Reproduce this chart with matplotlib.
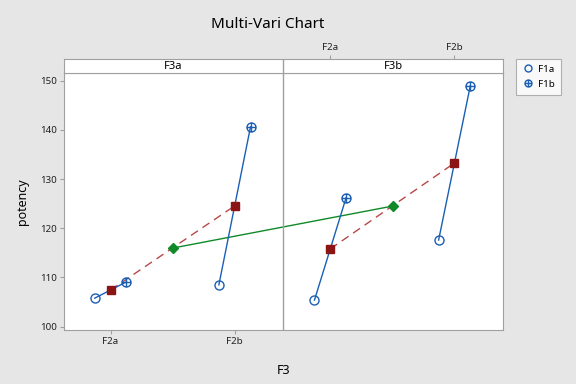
import numpy as np
import matplotlib.pyplot as plt
from matplotlib.path import Path

plt.rcParams['font.family'] = ['Noto Sans', 'DejaVu Sans']

# data
f3_levels = ['F3a', 'F3b']
f2_levels = ['F2a', 'F2b']
f1_levels = ['F1a', 'F1b']
# potency[f3][f2] = [F1a, F1b]
potency_f3a = [[105.8, 109.1], [108.5, 140.6]]
potency_f3b = [[105.4, 126.2], [117.6, 148.9]]
potency = [potency_f3a, potency_f3b]

blue = '#1a5fb4'
dred = '#8b1414'
lred = '#b84848'
green = '#108a28'
bg = '#e6e6e6'
frame = '#a0a0a0'

# circle with cross marker
circ = Path.unit_circle()
cross = Path([(-1, 0), (1, 0), (0, -1), (0, 1)],
             [Path.MOVETO, Path.LINETO, Path.MOVETO, Path.LINETO])
oplus = Path.make_compound_path(circ, cross)

fig = plt.figure(figsize=(5.76, 3.84), dpi=100, facecolor=bg)
W, H = 576, 384
x0, x1 = 63.5, 503
ytop_data, ybot, ytop = 72.7, 330, 59
ax = fig.add_axes([x0 / W, 1 - ybot / H, (x1 - x0) / W, (ybot - ytop_data) / H])
sx = fig.add_axes([x0 / W, 1 - ytop_data / H, (x1 - x0) / W, (ytop_data - ytop) / H])

f2_pos = [0.214, 0.779]
f1_off = [-0.072, 0.072]

f3_means = []
for k, panel in enumerate(potency):
    f2_means = []
    for j, vals in enumerate(panel):
        xs = [k + f2_pos[j] + o for o in f1_off]
        ax.plot(xs, vals, color=blue, lw=1, zorder=2)
        ax.plot(xs[0], vals[0], 'o', ms=6.5, mfc='none', mec=blue, mew=1, zorder=3)
        ax.plot(xs[1], vals[1], marker=oplus, ms=6.5, mfc='none', mec=blue, mew=1,
                ls='none', zorder=3)
        f2_means.append(np.mean(vals))
    mx = [k + p for p in f2_pos]
    ax.plot(mx, f2_means, color=lred, lw=1, dashes=(6, 4), zorder=1)
    ax.plot(mx, f2_means, 's', ms=6, color=dred, zorder=4)
    f3_means.append(np.mean(f2_means))

ax.plot([0.5, 1.5], f3_means, color=green, lw=1, zorder=1)
ax.plot([0.5, 1.5], f3_means, 'D', ms=5.5, color=green, zorder=4)

ax.set_xlim(0, 2)
ax.set_ylim(99.33, 151.6)
ax.axvline(1, color=frame, lw=1)
ax.set_yticks([100, 110, 120, 130, 140, 150])
ax.set_xticks([f2_pos[0], f2_pos[1]])
ax.set_xticklabels(f2_levels)
ax.tick_params(labelsize=7, length=3, color=frame, pad=2, labelcolor='#222222')
for s in ax.spines.values():
    s.set_color(frame)
ax.set_ylabel('potency', fontsize=9, labelpad=8)
ax.set_xlabel('F3', fontsize=9, labelpad=13)

# strip
sx.set_xlim(0, 2)
sx.set_ylim(0, 1)
sx.axvline(1, color=frame, lw=1)
sx.set_yticks([])
sx.xaxis.tick_top()
sx.set_xticks([1 + f2_pos[0], 1 + f2_pos[1]])
sx.set_xticklabels(f2_levels)
sx.tick_params(labelsize=7, length=3, color=frame, pad=2, labelcolor='#222222')
for s in sx.spines.values():
    s.set_color(frame)
for k, name in enumerate(f3_levels):
    sx.text(k + 0.5, 0.45, name, ha='center', va='center', fontsize=8)

fig.text(268 / W, 1 - 25 / H, 'Multi-Vari Chart', ha='center', va='center',
         fontsize=11, fontweight='semibold')

h1 = plt.Line2D([], [], marker='o', ms=5, mfc='none', mec=blue, ls='none')
h2 = plt.Line2D([], [], marker=oplus, ms=5, mfc='none', mec=blue, ls='none')
leg = fig.legend([h1, h2], f1_levels, loc='upper left',
                 bbox_to_anchor=(516 / W, 1 - 59 / H), borderaxespad=0,
                 fontsize=7, frameon=True, fancybox=False, edgecolor=frame,
                 handletextpad=0.5, borderpad=0.6, handlelength=1.2,
                 labelspacing=0.6)
leg.get_frame().set_linewidth(0.8)

fig.savefig('out.png', dpi=100, facecolor=bg)
